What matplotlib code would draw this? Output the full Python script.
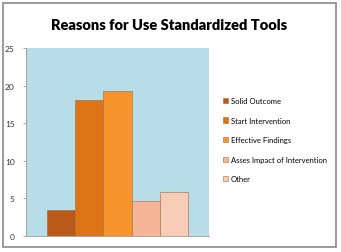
import matplotlib
matplotlib.use('Agg')
import matplotlib.pyplot as plt
from matplotlib.patches import Rectangle

plt.rcParams['font.family'] = ['Lato', 'DejaVu Sans']

categories = ['Solid Outcome', 'Start Intervention', 'Effective Findings',
              'Asses Impact of Intervention', 'Other']
values = [3.5, 18.1, 19.3, 4.6, 5.9]
colors = ['#B95A18', '#DE7418', '#F7942C', '#F6B596', '#F8CDB8']
yticks = [0, 5, 10, 15, 20, 25]

fig = plt.figure(figsize=[3.41, 2.53], dpi=100)
fig.patches.append(Rectangle((3/341, 5/253), 333/341, 244/253, transform=fig.transFigure,
                             fill=False, edgecolor='#8a8a8a', lw=1.2))

ax = fig.add_axes([26/341, 1 - 237/253, 183/341, 188/253])
ax.set_facecolor('#B7DDE8')

w = 0.154
start = -w * len(values) / 2 + w / 2
for i, (cat, val, col) in enumerate(zip(categories, values, colors)):
    ax.bar(start + i * w, val, width=w, color=col, edgecolor='#a06a4a', lw=0.4, label=cat)

ax.set_xlim(-0.5, 0.5)
ax.set_ylim(0, 25)
ax.set_yticks(yticks)
ax.set_yticklabels([str(t) for t in yticks], fontsize=6, color='#333333')
ax.set_xticks([])
ax.tick_params(axis='y', length=2, width=0.5, color='#888888', pad=6)
for s in ['top', 'right']:
    ax.spines[s].set_visible(False)
ax.spines['left'].set_color('#999999')
ax.spines['left'].set_linewidth(0.6)
ax.spines['bottom'].set_color('#999999')
ax.spines['bottom'].set_linewidth(0.6)

fig.legend(loc='upper left', bbox_to_anchor=(220/341, 1 - 95/253), frameon=False,
           fontsize=5.5, handlelength=0.7, handleheight=0.7, handletextpad=0.3,
           labelspacing=1.65, borderaxespad=0)

fig.text(169/341, 1 - 25/253, 'Reasons for Use Standardized Tools', ha='center', va='center',
         fontsize=10.5, fontweight='heavy')

plt.savefig('out.png', dpi=100)
plt.close()
